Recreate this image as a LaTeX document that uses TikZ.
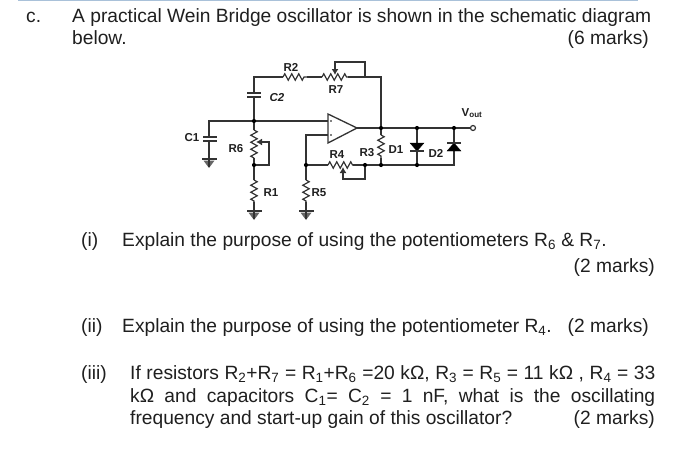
\documentclass[tikz,border=0pt]{standalone}
\usepackage{fontspec}
\setmainfont{Liberation Sans}
\usetikzlibrary{decorations.pathmorphing,arrows.meta}
\definecolor{ink}{gray}{0.12}
\definecolor{wirec}{gray}{0.2}
\definecolor{rulec}{HTML}{A9C1D9}
\tikzset{
  txt/.style={anchor=base west,inner sep=0pt,text=ink,font=\fontsize{19.2}{21}\selectfont},
  txtr/.style={anchor=base east,inner sep=0pt,text=ink,font=\fontsize{19.2}{21}\selectfont},
  lbl/.style={inner sep=0pt,text=ink,font=\fontsize{11.5}{13}\selectfont\bfseries},
  wire/.style={draw=wirec,line width=1.2pt},
  res/.style={draw=wirec,line width=1.2pt,decorate,decoration={zigzag,segment length=7pt,amplitude=3.2pt}},
  dot/.style={circle,fill=black,inner sep=0pt,minimum size=4.2pt},
  wiper/.style={draw=wirec,line width=1.2pt,-{Latex[length=6pt,width=7pt]}},
  plate/.style={draw=wirec,line width=1.7pt},
  dio/.style={fill=black,draw=black,line width=0.3pt},
}
\newcommand{\gnd}[2]{%
  \fill[wirec] (#1-7.5,#2) rectangle (#1+7.5,#2+1.8);
  \fill[wirec!75] (#1-5.5,#2+2.6) -- (#1+5.5,#2+2.6) -- (#1,#2+10) -- cycle;
  \draw[wire] (#1,#2+2) -- (#1,#2+9);
}
\begin{document}
\begin{tikzpicture}[x=1pt,y=-1pt]
\useasboundingbox (0,0) rectangle (700,450);
\fill[white] (0,0) rectangle (700,450);
\draw[rulec,line width=1.2pt] (18,0.5) -- (638,0.5);

% coordinates
\coordinate (tl) at (254,77);
\coordinate (r2a) at (283,77);
\coordinate (r2b) at (307,77);
\coordinate (r7a) at (322,77);
\coordinate (r7b) at (348,77);
\coordinate (fbt) at (381,77);
\coordinate (c2t) at (254,93);
\coordinate (c2b) at (254,97);
\coordinate (pj) at (254,121);
\coordinate (c1t) at (209,121);
\coordinate (c1a) at (209,137);
\coordinate (c1b) at (209,141);
\coordinate (c1g) at (209,158);
\coordinate (r6a) at (254,130);
\coordinate (r6b) at (254,158);
\coordinate (r6j) at (254,165);
\coordinate (r1a) at (254,180);
\coordinate (r1b) at (254,202);
\coordinate (g1) at (254,210);
\coordinate (pin) at (328,121);
\coordinate (nin) at (328,135);
\coordinate (nl) at (306,135);
\coordinate (nj) at (306,165);
\coordinate (r5a) at (306,180);
\coordinate (r5b) at (306,202);
\coordinate (g5) at (306,210);
\coordinate (r4a) at (328,165);
\coordinate (r4b) at (353,165);
\coordinate (r4j) at (365,165);
\coordinate (r3j) at (381,165);
\coordinate (d1j) at (417,165);
\coordinate (d2c) at (454,165);
\coordinate (oj) at (381,128);
\coordinate (d1t) at (417,128);
\coordinate (d2t) at (454,128);
\coordinate (tip) at (357,128);
\coordinate (r3a) at (381,135);
\coordinate (r3b) at (381,158);

% wires
\draw[wire] (r2a) -- (tl) -- (c2t);
\draw[wire] (c2b) -- (pj);
\draw[wire] (c1a) -- (c1t) -- (pin);
\draw[wire] (c1b) -- (c1g);
\draw[res] (r2a) -- (r2b);
\draw[wire] (r2b) -- (r7a);
\draw[res] (r7a) -- (r7b);
\draw[wire] (r7b) -- (fbt) -- (oj);
\draw[wiper] (365,77) -- (365,62) -- (335,62) -- (335,75);
\draw[wire] (pj) -- (r6a);
\draw[res] (r6a) -- (r6b);
\draw[wire] (r6b) -- (r6j) -- (r1a);
\draw[wiper] (r6j) -- (269,165) -- (269,142) -- (256,142);
\draw[res] (r1a) -- (r1b);
\draw[wire] (r1b) -- (g1);
\draw[wire] (nin) -- (nl) -- (r5a);
\draw[res] (r5a) -- (r5b);
\draw[wire] (r5b) -- (g5);
\draw[wire] (nj) -- (r4a);
\draw[res] (r4a) -- (r4b);
\draw[wire] (r4b) -- (d2c) -- (d2t);
\draw[wiper] (r4j) -- (365,179) -- (343,179) -- (343,167);
\draw[wire] (oj) -- (r3a);
\draw[res] (r3a) -- (r3b);
\draw[wire] (r3b) -- (r3j);
\draw[wire] (d1t) -- (d1j);
\draw[wire] (tip) -- (d2t);
% op amp
\draw[draw=wirec,line width=1.3pt,fill=white] (328,114) -- (tip) -- (328,143) -- cycle;
\fill (331,121) circle (0.9);
\fill (331,135) circle (0.9);
% output
\node[circle,draw=wirec,line width=1.2pt,fill=white,inner sep=0pt,minimum size=5pt] (out) at (473,128) {};
\draw[wire] (d2t) -- (out);
% capacitors
\draw[plate] (247,92.7) -- (261,92.7);
\draw[plate] (247,97) -- (261,97);
\draw[plate] (203,137) -- (217,137);
\draw[plate] (203,141) -- (217,141);
% diodes
\filldraw[dio] (410,143) -- (424,143) -- (417,151) -- cycle;
\draw[plate] (410,151) -- (424,151);
\filldraw[dio] (447,151) -- (461,151) -- (454,143) -- cycle;
\draw[plate] (447,143) -- (461,143);
% grounds
\gnd{209}{158}
\gnd{254}{210}
\gnd{306}{210}
% junctions
\foreach \p/\n in {pj/a,r6j/b,nj/c,r4j/d,r3j/e,d1j/f,oj/g,d1t/h,d2t/i}
  \node[dot] (j\n) at (\p) {};
% labels
\node[lbl] (lr2) at (291,67) {R2};
\node[lbl] (lr7) at (336,90) {R7};
\node[lbl] (lc1) at (192,138) {C1};
\node[lbl] (lr6) at (236,149) {R6};
\node[lbl] (lr1) at (271,193) {R1};
\node[lbl] (lr5) at (319,193) {R5};
\node[lbl] (lr4) at (337,155) {R4};
\node[lbl] (lr3) at (367,153) {R3};
\node[lbl] (ld1) at (396,150) {D1};
\node[lbl] (ld2) at (436,153) {D2};
\node[lbl] (lvo) at (472,113) {V\textsubscript{out}};
\begin{scope}
\clip (262,90) rectangle (290,100.5);
\node[lbl,font=\fontsize{11.5}{13}\selectfont\bfseries\itshape] (lc2) at (277,98) {C2};
\end{scope}
% text
\node[txt] (t1) at (26,22) {c.};
\node[txt] (t2) at (72,22) {A practical Wein Bridge oscillator is shown in the schematic diagram};
\node[txt] (t3) at (72,44) {below.};
\node[txtr] (t4) at (649,44) {(6 marks)};
\node[txt] (t5) at (81,246) {(i)};
\node[txt] (t6) at (122,246) {Explain the purpose of using the potentiometers R\textsubscript{6} \& R\textsubscript{7}.};
\node[txtr] (t7) at (655,272) {(2 marks)};
\node[txt] (t8) at (81,332) {(ii)};
\node[txt] (t9) at (122,332) {Explain the purpose of using the potentiometer R\textsubscript{4}.};
\node[txtr] (t10) at (649,332) {(2 marks)};
\node[txt] (t11) at (81,379) {(iii)};
\node[txt] (t12) at (130,379) {\makebox[525pt][s]{If resistors R\textsubscript{2}+R\textsubscript{7} = R\textsubscript{1}+R\textsubscript{6} =20 kΩ, R\textsubscript{3} = R\textsubscript{5} = 11 kΩ , R\textsubscript{4} = 33}};
\node[txt] (t13) at (130,402) {\makebox[525pt][s]{kΩ and capacitors C\textsubscript{1}= C\textsubscript{2} = 1 nF, what is the oscillating}};
\node[txt] (t14) at (130,424) {frequency and start-up gain of this oscillator?};
\node[txtr] (t15) at (655,424) {(2 marks)};
\end{tikzpicture}
\end{document}
